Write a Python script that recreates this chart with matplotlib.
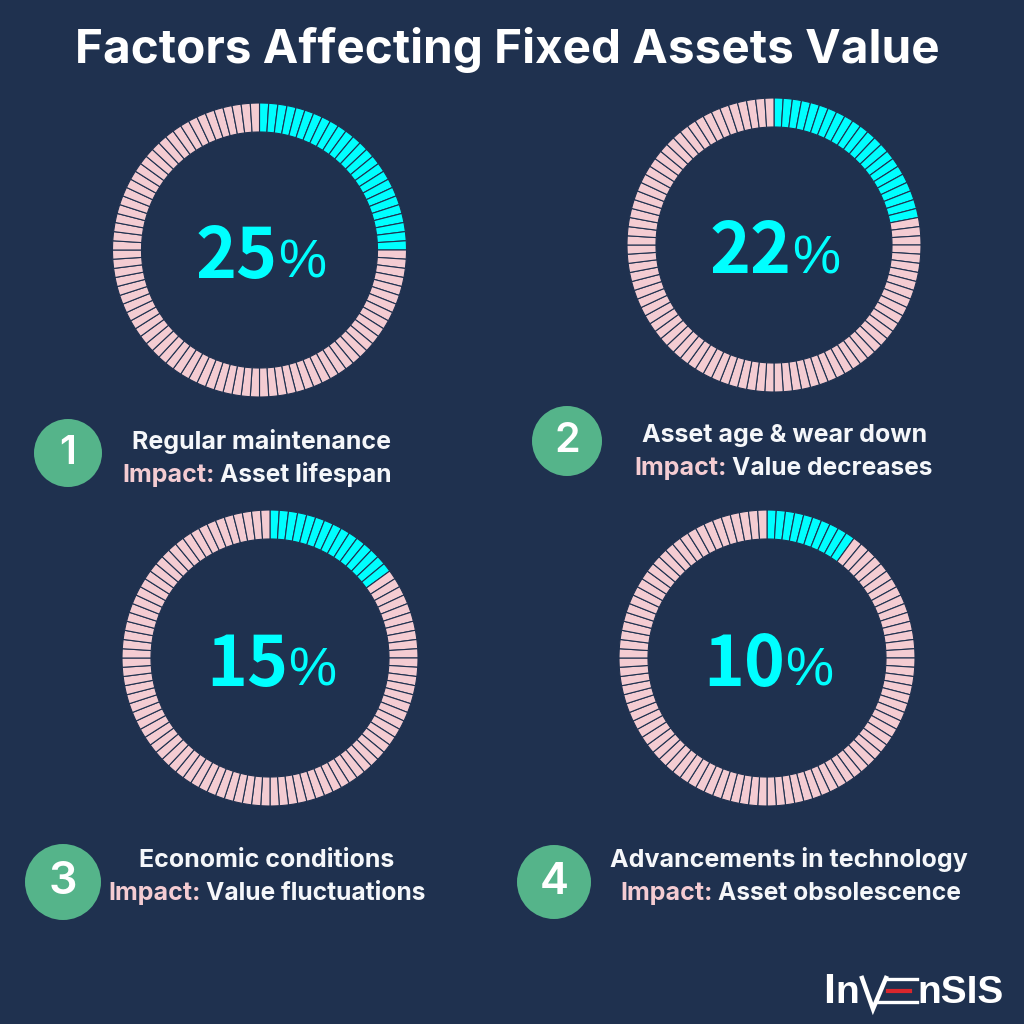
import matplotlib
matplotlib.use("Agg")
import matplotlib.pyplot as plt

bg = "#1F314F"
cyan = "#00FFFF"
pink = "#F4CCD2"
green = "#55B48A"

title = "Factors Affecting Fixed Assets Value"
percents = [25, 22, 15, 10]
factors = ["Regular maintenance", "Asset age & wear down", "Economic conditions", "Advancements in technology"]
impacts = ["Asset lifespan", "Value decreases", "Value fluctuations", "Asset obsolescence"]
n_seg = 100

centers = [(259.5, 250), (774, 245), (270, 658), (767, 658)]
radii = [147, 147, 148, 148]
badges = [(68, 453, 34), (567, 441, 35), (63, 882, 38), (554, 882, 37)]
factor_xy = [(262, 449), (785, 442), (267, 867), (789, 867)]
impact_y = [482, 475, 900, 900]
impact_left = [122, 634, 108, 620]

fig = plt.figure(figsize=(10.24, 10.24), dpi=100, facecolor=bg)
ax = fig.add_axes([0, 0, 1, 1])
rend = fig.canvas.get_renderer()

for i in range(4):
    p = percents[i]
    cols = [cyan] * p + [pink] * (n_seg - p)
    # y axis is flipped below, so this runs clockwise from the top on screen
    ax.pie([1] * n_seg, colors=cols, startangle=270, counterclock=True,
           center=centers[i], radius=radii[i], frame=True,
           wedgeprops=dict(width=29, edgecolor=bg, linewidth=0.8))
    # digits are heavy and the percent sign thin in the original
    cx = centers[i][0] - 64
    base = centers[i][1] + 28
    num = ax.text(cx, base, str(p), color=cyan, fontsize=50,
                  family="Noto Sans CJK SC", weight="bold", ha="left", va="baseline")
    w = num.get_window_extent(rend).width
    ax.text(cx + w, base, "%", color=cyan, fontsize=39,
            family="Liberation Sans", ha="left", va="baseline")

    bx, by, br = badges[i]
    ax.add_patch(plt.Circle((bx, by), br, color=green, lw=0))
    ax.text(bx, by, str(i + 1), color="white", fontsize=br * 0.85, family="Inter",
            weight="semibold", ha="center", va="center")

    ax.text(factor_xy[i][0], factor_xy[i][1], factors[i], color="#F5F7FA", fontsize=18,
            family="Inter", weight="bold", ha="center", va="baseline")
    t = ax.text(impact_left[i], impact_y[i], "Impact:", color=pink, fontsize=18,
                family="Inter", weight="bold", ha="left", va="baseline")
    ext = t.get_window_extent(rend)
    ax.text(impact_left[i] + ext.width + 5, impact_y[i], impacts[i], color="#F5F7FA", fontsize=17.7,
            family="Inter", weight="bold", ha="left", va="baseline")

ax.text(507, 50, title, color="white", fontsize=34.3, family="Inter", weight="bold",
        ha="center", va="center")

# logo
ax.text(823, 1003, "I", color="white", fontsize=31, family="Liberation Sans", weight="bold",
        ha="left", va="baseline")
ax.text(835, 1003, "n", color="white", fontsize=28, family="Liberation Sans", weight="bold",
        ha="left", va="baseline")
ax.text(1004, 1003, "nSIS", color="white", fontsize=28, family="Liberation Sans", weight="bold",
        ha="right", va="baseline")
ax.plot([862, 873, 886], [978, 1009, 978], color="white", lw=3.2, solid_joinstyle="miter")
ax.plot([888, 917], [979, 979], color="white", lw=2.4)
ax.plot([888, 910], [991, 991], color="#D8262C", lw=3)
ax.plot([878, 917], [1002, 1002], color="white", lw=2.4)

ax.set_xlim(0, 1024)
ax.set_ylim(1024, 0)
ax.set_aspect("equal")
ax.axis("off")

fig.savefig("out.png", dpi=100, facecolor=bg)
